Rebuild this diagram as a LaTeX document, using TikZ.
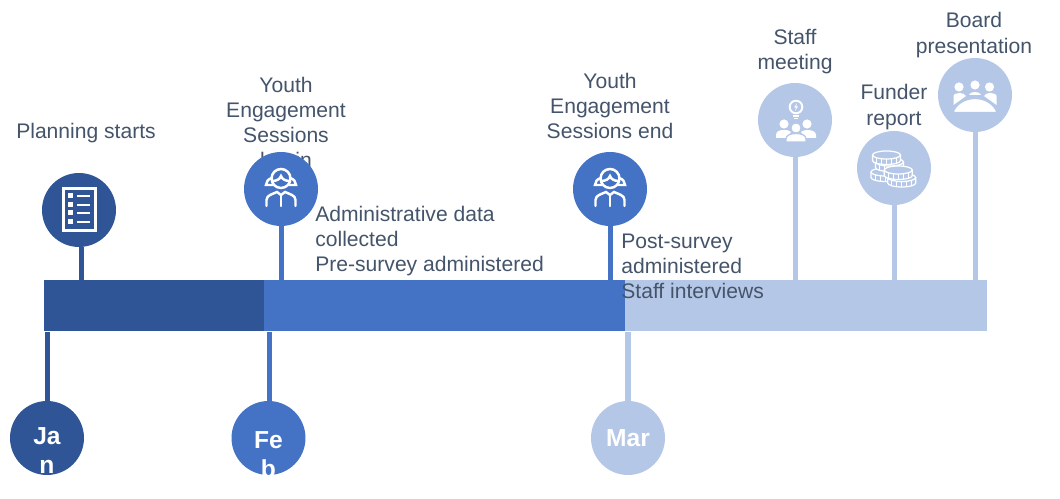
\documentclass[tikz,border=0pt]{standalone}
\usepackage{fontspec}
\setmainfont{Liberation Sans}
\definecolor{darkblue}{HTML}{2F5597}
\definecolor{midblue}{HTML}{4472C4}
\definecolor{lightblue}{HTML}{B4C7E7}
\definecolor{labelgray}{HTML}{44546A}
\tikzset{
  label text/.style={text=labelgray,align=center,inner sep=0pt,font=\fontsize{12}{14.3}\selectfont},
  dot/.style={circle,fill=#1,draw=none,minimum size=1.48cm,inner sep=0pt},
  month/.style={text=white,align=center,inner sep=0pt,font=\fontsize{14}{16.5}\selectfont\bfseries},
  bar/.style={rectangle,fill=#1,draw=none,inner sep=0pt,minimum height=1.02cm,anchor=north west},
  stem/.style={draw=#1,line width=3pt},
  icon line/.style={draw=white,line width=1.4pt,line cap=round},
  pics/checklist/.style={code={
    \draw[white,line width=1.9pt] (-15.5,-21.5) rectangle (16.5,20.5);
    \foreach \rowy in {-14,-5,3,12}{
      \fill[white] (-11,\rowy-2.5) rectangle (-6,\rowy+2.5);
      \draw[white,line width=1.3pt] (-2,\rowy) -- (11,\rowy);
    }
  }},
  pics/girl/.style={code={
    \draw[icon line] (0,-10.5) circle (9.5);
    \draw[icon line] (-9,-8) .. controls (-4,-8) and (-1,-10) .. (0,-13) .. controls (1,-10) and (4,-8) .. (9,-8);
    \draw[icon line] (-9,-11) .. controls (-13,-10) and (-15,-7) .. (-15,-4) -- (-8.5,-4);
    \draw[icon line] (9,-11) .. controls (13,-10) and (15,-7) .. (15,-4) -- (8.5,-4);
    \draw[icon line] (-14.5,17) -- (-14.5,11) .. controls (-14.5,6) and (-8,5) .. (-4,3) -- (0,6) -- (4,3) .. controls (8,5) and (14.5,6) .. (14.5,11) -- (14.5,17);
    \draw[icon line] (0,6) -- (0,17);
  }},
  pics/ideateam/.style={code={
    \draw[white,line width=1.1pt] (1,-13) circle (6.3);
    \draw[white,line width=1.1pt] (-2,-4) -- (4,-4) (-1,-1.5) -- (3,-1.5);
    \fill[white] (2,-17) -- (-1,-12.5) -- (1,-12.5) -- (0,-9) -- (3,-13.5) -- (1,-13.5) -- cycle;
    \fill[white] (-11,4) circle (4.6) (12,4) circle (4.6);
    \fill[white] (-19,18) -- (-19,15) .. controls (-19,11) and (-15,10) .. (-11,10) .. controls (-7,10) and (-5,11) .. (-4,12) -- (-9,18) -- cycle;
    \fill[white] (21,18) -- (21,15) .. controls (21,11) and (16,10) .. (12,10) .. controls (9,10) and (7,11) .. (6,12) -- (11,18) -- cycle;
    \draw[lightblue,fill=white,line width=.7pt] (1,8) circle (5.2);
    \draw[lightblue,fill=white,line width=.7pt] (-9,22) -- (-9,19) .. controls (-9,15) and (-4,13.5) .. (1,13.5) .. controls (6,13.5) and (11,15) .. (11,19) -- (11,22) -- cycle;
  }},
  pics/coin/.style={code={
    \draw[white,line width=.7pt,fill=lightblue] (-14,0) -- (-14,5.5) arc[start angle=180,end angle=360,x radius=14,y radius=-4] -- (14,0);
    \draw[white,line width=.7pt,fill=lightblue] (0,0) ellipse[x radius=14,y radius=4];
    \foreach \tickx/\ticky in {-10/2.8,-5/3.7,0/4,5/3.7,10/2.8}
      \draw[white,line width=.4pt] (\tickx,\ticky) -- (\tickx,\ticky+5.5);
  }},
  pics/coins/.style={code={
    \path (-9,4) pic {coin};
    \path (-4.5,-6) pic {coin};
    \path (-7.5,-13) pic {coin};
    \path (7.7,9.5) pic {coin};
    \path (4.3,2) pic {coin};
  }},
  pics/boardtable/.style={code={
    \fill[white] (-16,-8) circle (4.6) (0,-10) circle (4.6) (14.5,-8) circle (4.6);
    \fill[white] (-21.5,10) -- (-21.5,1) .. controls (-21.5,-1) and (-18,-2) .. (-15.5,-2) .. controls (-13,-2) and (-10,-1) .. (-9,1) -- cycle;
    \fill[white] (21.5,10) -- (21.5,1) .. controls (21.5,-1) and (18,-2) .. (15,-2) .. controls (12.5,-2) and (10,-1) .. (9,1) -- cycle;
    \fill[white] (-6,0) .. controls (-5,-4) and (5,-4) .. (6,0) -- cycle;
    \draw[lightblue,fill=white,line width=.7pt] (-22,17.5) .. controls (-19,9) and (-10,3.5) .. (0,3.5) .. controls (10,3.5) and (19,9) .. (22,17.5) -- cycle;
  }},
}
\begin{document}
\begin{tikzpicture}[x=0.02cm,y=-0.02cm]
  \useasboundingbox (0,0) rectangle (1060,499);
  % bar
  \node[bar=darkblue,minimum width=4.42cm] (barjan) at (44,280) {};
  \node[bar=midblue,minimum width=7.22cm] (barfeb) at (264,280) {};
  \node[bar=lightblue,minimum width=7.24cm] (barmar) at (625,280) {};
  % labels, the circles lie on top of them
  \node[label text] (planlabel) at (86,133) {Planning starts};
  \node[label text,anchor=north] (youthlabela) at (286,77) {Youth\\Engagement\\Sessions\\begin};
  \node[label text] (youthlabelb) at (610,106) {Youth\\Engagement\\Sessions end};
  \node[label text] (stafflabel) at (795,52) {Staff\\meeting};
  \node[label text] (funderlabel) at (894,107) {Funder\\report};
  \node[label text] (boardlabel) at (974,35) {Board\\presentation};
  % circles above the bar
  \node[dot=darkblue] (plan) at (79,210) {};
  \node[dot=midblue] (youtha) at (281,189) {};
  \node[dot=midblue] (youthb) at (610,189) {};
  \node[dot=lightblue] (staff) at (795,120) {};
  \node[dot=lightblue] (funder) at (894,168) {};
  \node[dot=lightblue] (board) at (975,95) {};
  % circles below the bar
  \node[dot=darkblue,path picture={\node[month] at ([yshift=-.25cm]path picture bounding box.center) {Ja\\n};}] (jan) at (47,438) {};
  \node[dot=midblue,path picture={\node[month] at ([yshift=-.34cm]path picture bounding box.center) {Fe\\b};}] (feb) at (268.5,438) {};
  \node[dot=lightblue] (mar) at (628,438) {};
  \node[month] (marlabel) at (mar) {Mar};
  % stems
  \draw[stem=darkblue] ([xshift=1.4pt]plan.south) -- ([xshift=1.4pt]plan.south |- barjan.north);
  \draw[stem=midblue] ([xshift=.4pt]youtha.south) -- ([xshift=.4pt]youtha.south |- barfeb.north);
  \draw[stem=midblue] ([xshift=.4pt]youthb.south) -- ([xshift=.4pt]youthb.south |- barfeb.north);
  \draw[stem=lightblue] ([xshift=.4pt]staff.south) -- ([xshift=.4pt]staff.south |- barmar.north);
  \draw[stem=lightblue] ([xshift=.4pt]funder.south) -- ([xshift=.4pt]funder.south |- barmar.north);
  \draw[stem=lightblue] ([xshift=.4pt]board.south) -- ([xshift=.4pt]board.south |- barmar.north);
  \draw[stem=darkblue] ([xshift=.4pt]jan.north) -- ([xshift=.4pt]jan.north |- barjan.south);
  \draw[stem=midblue] ([xshift=.4pt]feb.north) -- ([xshift=.4pt]feb.north |- barfeb.south);
  \draw[stem=lightblue] (mar.north) -- (mar.north |- barmar.south);
  % icons
  \path (plan) pic {checklist};
  \path (youtha) pic {girl};
  \path (youthb) pic {girl};
  \path (staff) pic {ideateam};
  \path (funder) pic {coins};
  \path (board) pic {boardtable};
  % texts beside the stems
  \node[label text,align=left,anchor=north west] (adminlabel) at (315,206) {Administrative data\\collected\\Pre-survey administered};
  \node[label text,align=left,anchor=north west] (postlabel) at (621,233.5) {Post-survey\\administered\\Staff interviews};
\end{tikzpicture}
\end{document}
